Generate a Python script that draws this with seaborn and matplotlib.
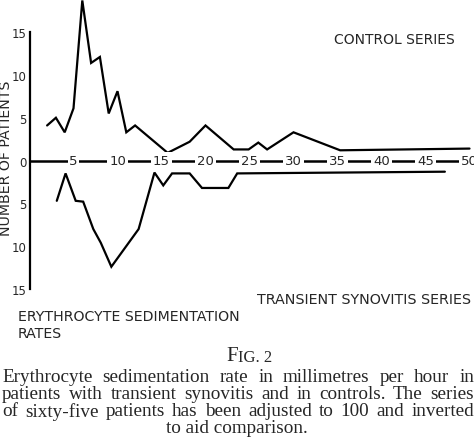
import matplotlib
matplotlib.use("Agg")
import matplotlib.pyplot as plt
import seaborn as sns

# values (ESR in mm/hr, number of patients)
esr_control = [2, 3, 4, 5, 6, 7, 8, 9, 10, 11, 12, 15.7, 18.2, 20, 23.2, 24.9, 26, 27, 30, 35.3, 50]
control_patients = [4.1, 5.0, 3.3, 6.1, 18.7, 11.4, 12.1, 5.5, 8.1, 3.3, 4.1, 0.9, 2.2, 4.1,
                    1.3, 1.3, 2.1, 1.3, 3.3, 1.2, 1.4]

esr_synovitis = [3.1, 4.1, 5.25, 6.1, 7.25, 8.1, 9.3, 12.4, 14.2, 15.2, 16.2, 18.2, 19.6, 22.6, 23.6, 47.2]
synovitis_patients = [4.7, 1.5, 4.7, 4.8, 8.0, 9.6, 12.4, 8.0, 1.4, 2.9, 1.5, 1.5, 3.2, 3.2, 1.5, 1.3]

x_ticks = [5, 10, 15, 20, 25, 30, 35, 40, 45, 50]
y_ticks = [15, 10, 5, 0, -5, -10, -15]
y_tick_labels = ["15", "10", "5", "0", "5", "10", "15"]

caption_lines = [
    "Erythrocyte sedimentation rate in millimetres per hour in",
    "patients with transient synovitis and in controls.  The series",
    "of sixty-five patients has been adjusted to 100 and inverted",
]
caption_last = "to aid comparison."

sns.set_style("white")
plt.rcParams["font.family"] = ["DejaVu Sans"]

W, H = 474, 439
fig = plt.figure(figsize=(W / 100, H / 100), dpi=100)
ax = fig.add_axes([29.5 / W, (H - 290) / H, 1 - 29.5 / W, 290 / H])
ax.set_xlim(0, 50.51)
ax.set_ylim(-15, 18.87)

line_kw = dict(color="black", linewidth=1.6, solid_joinstyle="miter", clip_on=False)
sns.lineplot(x=esr_control, y=control_patients, ax=ax, **line_kw)
sns.lineplot(x=esr_synovitis, y=[-v for v in synovitis_patients], ax=ax, **line_kw)

# zero line with the rate labels sitting on it
ax.plot([0, 50.6], [0, 0], color="black", linewidth=1.8, clip_on=False, zorder=2)
for t in x_ticks:
    ax.text(t, 0, str(t), ha="center", va="center", fontsize=9.5, zorder=3,
            bbox=dict(facecolor="white", edgecolor="none", pad=1.2), clip_on=False)

ax.set_xticks([])
ax.set_yticks(y_ticks)
ax.set_yticklabels(y_tick_labels, fontsize=8.5)
ax.tick_params(axis="y", length=0, pad=2)
ax.set_yticks([-15, 15], minor=True)
ax.tick_params(axis="y", which="minor", length=2.5, width=1.4, direction="out")
for side in ["top", "right", "bottom"]:
    ax.spines[side].set_visible(False)
ax.spines["left"].set_bounds(-15, 15)
ax.spines["left"].set_linewidth(1.6)
ax.spines["left"].set_color("black")

fig.text(6 / W, 1 - 158 / H, "NUMBER OF PATIENTS", rotation=90, ha="center", va="center", fontsize=10.2)
fig.text(394 / W, 1 - 40 / H, "CONTROL SERIES", ha="center", va="center", fontsize=10)
fig.text(471 / W, 1 - 300 / H, "TRANSIENT SYNOVITIS SERIES", ha="right", va="center", fontsize=10.3)
fig.text(18 / W, 1 - 317 / H, "ERYTHROCYTE SEDIMENTATION", ha="left", va="center", fontsize=10.2)
fig.text(18 / W, 1 - 334 / H, "RATES", ha="left", va="center", fontsize=10.2)

serif = ["Liberation Serif", "DejaVu Serif"]
fig.text(238 / W, 1 - 357 / H, "F", ha="right", va="center", fontsize=15, family=serif)
fig.text(238 / W, 1 - 358 / H, "IG. 2", ha="left", va="center", fontsize=12, family=serif)

# justified caption, word by word
renderer = fig.canvas.get_renderer()
left, right = 2, 474
for i, line in enumerate(caption_lines):
    y = 1 - (378 + 17 * i) / H
    words = line.split()
    texts = [fig.text(0, y, w, ha="left", va="center", fontsize=13.8, family=serif) for w in words]
    widths = [t.get_window_extent(renderer).width for t in texts]
    gap = (right - left - sum(widths)) / (len(words) - 1)
    xpos = left
    for t, w in zip(texts, widths):
        t.set_x(xpos / W)
        xpos += w + gap
fig.text(237 / W, 1 - 429 / H, caption_last, ha="center", va="center", fontsize=13.8, family=serif)

fig.savefig("out.png", dpi=100)
